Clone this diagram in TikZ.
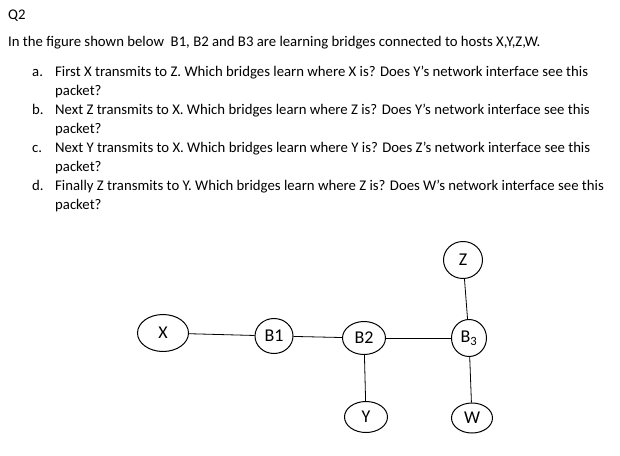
\documentclass[tikz,border=0pt]{standalone}
\usepackage{fontspec}
\setmainfont{Carlito}
\usetikzlibrary{shapes.geometric}

\tikzset{
  txt/.style={anchor=base west, inner sep=0pt, font=\fontsize{14.75}{18}\selectfont},
  host/.style={draw, ellipse, line width=1pt, inner sep=0pt, font=\fontsize{18}{20}\selectfont},
  link/.style={line width=0.8pt}
}

\begin{document}
\begin{tikzpicture}[x=1pt,y=-1pt]
    \useasboundingbox (0,0) rectangle (620,455);

    % Aufgabe
    \node[txt] (q2) at (8,19) {Q2};
    \node[txt] (intro) at (8,46) {In the figure shown below\ \ B1, B2 and B3 are learning bridges connected to hosts X,Y,Z,W.};

    % Teilaufgaben
    \node[txt] (la) at (32,76) {a.};
    \node[txt] (ta) at (55,76) {First X transmits to Z. Which bridges learn where X is? Does Y’s network interface see this};
    \node[txt] (pa) at (55,95) {packet?};
    \node[txt] (lb) at (32,114) {b.};
    \node[txt] (tb) at (55,114) {Next Z transmits to X. Which bridges learn where Z is? Does Y’s network interface see this};
    \node[txt] (pb) at (55,133) {packet?};
    \node[txt] (lc) at (32,152) {c.};
    \node[txt] (tc) at (55,152) {Next Y transmits to X. Which bridges learn where Y is? Does Z’s network interface see this};
    \node[txt] (pc) at (55,171) {packet?};
    \node[txt] (ld) at (32,190) {d.};
    \node[txt] (td) at (55,190) {Finally Z transmits to Y. Which bridges learn where Z is? Does W’s network interface see this};
    \node[txt] (pd) at (55,209) {packet?};

    % Hosts und Bridges
    \node[host, minimum width=51, minimum height=37] (x) at (163,333) {X};
    \node[host, minimum width=38, minimum height=35] (b1) at (274,336) {B1};
    \node[host, minimum width=43, minimum height=33] (b2) at (364,338) {B2};
    \node[host, minimum width=35, minimum height=37] (b3) at (469,338) {B\textsubscript{3}};
    \node[host, minimum width=39, minimum height=37] (z) at (463,260) {Z};
    \node[host, minimum width=43, minimum height=31] (y) at (366,417) {Y};
    \node[host, minimum width=41, minimum height=30] (w) at (472,418) {W};

    % Verbindungen
    \draw[link] (x) -- (b1);
    \draw[link] (b1) -- (b2);
    \draw[link] (b2) -- (b3);
    \draw[link] (z) -- (b3);
    \draw[link] (b2) -- (y);
    \draw[link] (b3) -- (w);
\end{tikzpicture}
\end{document}
